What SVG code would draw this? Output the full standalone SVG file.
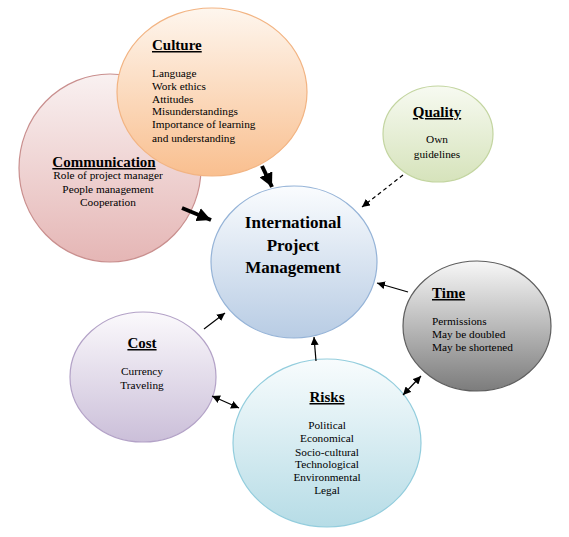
<svg xmlns="http://www.w3.org/2000/svg" width="569" height="537" viewBox="0 0 569 537">
<style>
text{font-family:"Liberation Serif","Times New Roman",serif;fill:#000}
.t{font-size:15px;font-weight:bold;text-decoration:underline}
.b{font-size:11.3px}
.m{font-size:17px;font-weight:bold}
.c{text-anchor:middle}
.thin{stroke:#000;stroke-width:1.2;fill:none}
.thick{stroke:#000;stroke-width:4;fill:none}
</style>
<defs>
<linearGradient id="gCom" x1="0" y1="0" x2="0" y2="1"><stop offset="0" stop-color="#f9f1f1"/><stop offset="1" stop-color="#e5b6b5"/></linearGradient>
<linearGradient id="gCul" x1="0" y1="0" x2="0" y2="1"><stop offset="0" stop-color="#fef6ee"/><stop offset="1" stop-color="#f9bf8f"/></linearGradient>
<linearGradient id="gQua" x1="0" y1="0" x2="0" y2="1"><stop offset="0" stop-color="#f7faf1"/><stop offset="1" stop-color="#d6e3bb"/></linearGradient>
<linearGradient id="gIPM" x1="0" y1="0" x2="0" y2="1"><stop offset="0" stop-color="#fafcfe"/><stop offset="1" stop-color="#b8cce4"/></linearGradient>
<linearGradient id="gTim" x1="0" y1="0" x2="0" y2="1"><stop offset="0" stop-color="#f7f7f7"/><stop offset="1" stop-color="#7c7c7c"/></linearGradient>
<linearGradient id="gCos" x1="0" y1="0" x2="0" y2="1"><stop offset="0" stop-color="#fbf9fc"/><stop offset="1" stop-color="#cbbfd9"/></linearGradient>
<linearGradient id="gRis" x1="0" y1="0" x2="0" y2="1"><stop offset="0" stop-color="#f8fcfd"/><stop offset="1" stop-color="#b6dce6"/></linearGradient>
<marker id="ah" viewBox="0 0 10 10" refX="10" refY="5" markerWidth="8" markerHeight="8" markerUnits="userSpaceOnUse" orient="auto-start-reverse"><path d="M0,0 L10,5 L0,10 z" fill="#000"/></marker>
<marker id="ahT" viewBox="0 0 10 10" refX="10" refY="5" markerWidth="14" markerHeight="14" markerUnits="userSpaceOnUse" orient="auto"><path d="M0,0 L10,5 L0,10 z" fill="#000"/></marker>
</defs>

<g id="communication">
<ellipse cx="110" cy="168" rx="91" ry="94" fill="url(#gCom)" stroke="#c98f8e" stroke-width="1.2"/>
<text class="t c" x="104" y="167">Communication</text>
<text class="b c" x="108" y="179">Role of project manager</text>
<text class="b c" x="108" y="193">People management</text>
<text class="b c" x="108" y="206">Cooperation</text>
</g>

<g id="culture">
<ellipse cx="212" cy="92" rx="95" ry="84" fill="url(#gCul)" stroke="#f2b483" stroke-width="1.2"/>
<text class="t" x="152" y="50">Culture</text>
<text class="b" x="152" y="77">Language</text>
<text class="b" x="152" y="90">Work ethics</text>
<text class="b" x="152" y="103">Attitudes</text>
<text class="b" x="152" y="115">Misunderstandings</text>
<text class="b" x="152" y="128">Importance of learning</text>
<text class="b" x="152" y="142">and understanding</text>
</g>

<g id="quality">
<ellipse cx="438" cy="134" rx="55" ry="48" fill="url(#gQua)" stroke="#c3d5a0" stroke-width="1.2"/>
<text class="t c" x="437" y="117">Quality</text>
<text class="b c" x="437" y="143">Own</text>
<text class="b c" x="437" y="158">guidelines</text>
</g>

<g id="ipm">
<ellipse cx="294" cy="262" rx="83" ry="76" fill="url(#gIPM)" stroke="#95b3d7" stroke-width="1.2"/>
<text class="m c" x="293" y="228">International</text>
<text class="m c" x="293" y="251">Project</text>
<text class="m c" x="293" y="273">Management</text>
</g>

<g id="time">
<ellipse cx="477" cy="326" rx="74" ry="65" fill="url(#gTim)" stroke="#5e5e5e" stroke-width="1.2"/>
<text class="t" x="432" y="298">Time</text>
<text class="b" x="432" y="325">Permissions</text>
<text class="b" x="432" y="338">May be doubled</text>
<text class="b" x="432" y="351">May be shortened</text>
</g>

<g id="cost">
<ellipse cx="143" cy="377" rx="73" ry="65" fill="url(#gCos)" stroke="#b3a2c7" stroke-width="1.2"/>
<text class="t c" x="142" y="348">Cost</text>
<text class="b c" x="142" y="375">Currency</text>
<text class="b c" x="142" y="389">Traveling</text>
</g>

<g id="risks">
<ellipse cx="327" cy="443" rx="94" ry="84" fill="url(#gRis)" stroke="#93cddd" stroke-width="1.2"/>
<text class="t c" x="327" y="402">Risks</text>
<text class="b c" x="327" y="429">Political</text>
<text class="b c" x="327" y="442">Economical</text>
<text class="b c" x="327" y="456">Socio-cultural</text>
<text class="b c" x="327" y="468">Technological</text>
<text class="b c" x="327" y="481">Environmental</text>
<text class="b c" x="327" y="494">Legal</text>
</g>

<g id="connectors">
<line class="thick" x1="262" y1="166" x2="272" y2="187" marker-end="url(#ahT)"/>
<line class="thick" x1="182" y1="208" x2="211" y2="220" marker-end="url(#ahT)"/>
<line class="thin" x1="403" y1="175" x2="362" y2="207" stroke-dasharray="4,3" marker-end="url(#ah)"/>
<line class="thin" x1="408" y1="292" x2="377" y2="283" marker-end="url(#ah)"/>
<line class="thin" x1="204" y1="329" x2="225" y2="313" marker-end="url(#ah)"/>
<line class="thin" x1="316" y1="361" x2="314" y2="337" marker-end="url(#ah)"/>
<line class="thin" x1="212" y1="396" x2="239" y2="408" marker-start="url(#ah)" marker-end="url(#ah)"/>
<line class="thin" x1="403" y1="395" x2="421" y2="376" marker-start="url(#ah)" marker-end="url(#ah)"/>
</g>
</svg>
